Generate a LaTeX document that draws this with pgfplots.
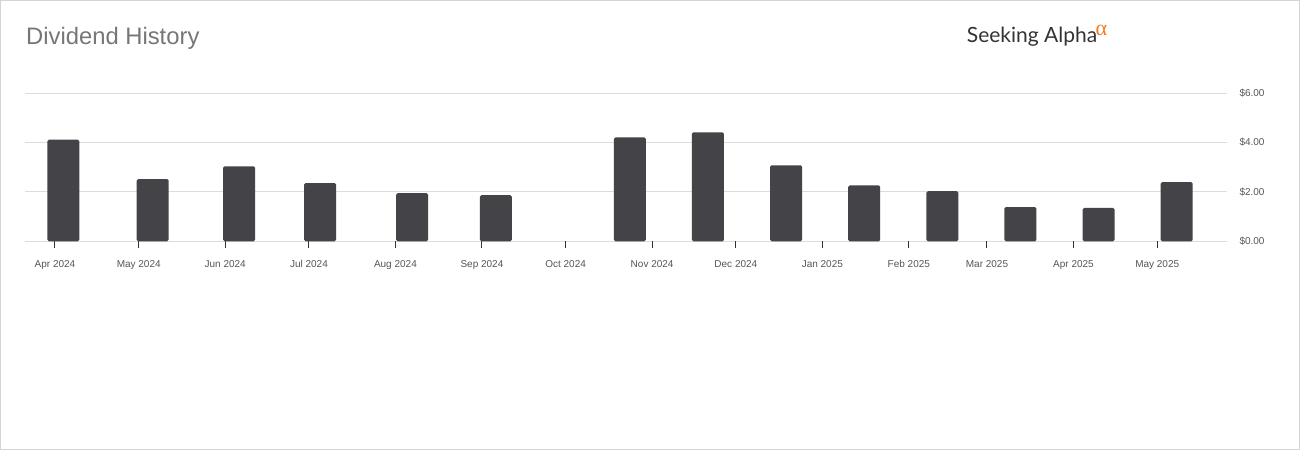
\documentclass[border=0pt]{standalone}
\usepackage{fontspec}
\setmainfont{Liberation Sans}
\newfontfamily\logofont{Lato}
\newfontfamily\alphafont{Liberation Serif}
\usepackage{pgfplots}
\usepackage{pgfplotstable}
\pgfplotsset{compat=1.18}

\definecolor{barcol}{HTML}{444347}
\definecolor{gridcol}{HTML}{DCDCDC}
\definecolor{labelcol}{HTML}{555555}
\definecolor{titlecol}{HTML}{767676}
\definecolor{bordercol}{HTML}{D4D4D4}
\definecolor{logocol}{HTML}{333333}
\definecolor{alphacol}{HTML}{F47B20}

% x = days since 1 Apr 2024
\pgfplotstableread{
day value
3   4.12
35  2.52
66  3.04
95  2.36
128 1.95
158 1.87
206 4.21
234 4.42
262 3.08
290 2.27
318 2.03
346 1.39
374 1.35
402 2.40
}\dividends

\begin{document}
\begin{tikzpicture}[x=1pt,y=1pt]
\draw[bordercol, line width=1pt] (0.5,0.5) rectangle (1299.5,449.5);
\node[anchor=base west, inner sep=0, text=titlecol,
  font=\fontsize{23.8}{28}\selectfont] at (26,405) {Dividend History};
\node[anchor=base west, inner sep=0, text=logocol,
  font=\logofont\fontsize{21}{25}\selectfont] at (966.7,407) {Seeking Alpha};
\node[anchor=base west, inner sep=0, text=alphacol,
  font=\alphafont\fontsize{22}{25}\selectfont] at (1095.5,414) {α};

\begin{axis}[
  at={(25pt,208.7pt)}, anchor=south west,
  scale only axis, width=1201.7pt, height=148pt,
  xmin=-10.75, xmax=419.9, ymin=0, ymax=6,
  axis line style={draw=none},
  ymajorgrids, grid style={gridcol, line width=1pt},
  ytick={0,2,4,6},
  yticklabels={\$0.00,\$2.00,\$4.00,\$6.00},
  yticklabel pos=right,
  ytick style={draw=none},
  yticklabel style={font=\fontsize{10}{12}\selectfont, text=labelcol, xshift=2.3pt},
  xtick={0,30,61,91,122,153,183,214,244,275,306,334,365,395},
  xticklabels={Apr 2024,May 2024,Jun 2024,Jul 2024,Aug 2024,Sep 2024,Oct 2024,
    Nov 2024,Dec 2024,Jan 2025,Feb 2025,Mar 2025,Apr 2025,May 2025},
  xtick pos=bottom, tick align=outside,
  xtick style={draw=logocol, line width=1pt},
  major tick length=7pt,
  xticklabel style={font=\fontsize{10}{12}\selectfont, text=labelcol,
    text height=7.5pt, text depth=2pt, yshift=-8pt},
]
\addplot[ybar, bar width=32pt, fill=barcol, draw=none, rounded corners=1.5pt]
  table[x=day, y=value] {\dividends};
\end{axis}
\end{tikzpicture}
\end{document}
